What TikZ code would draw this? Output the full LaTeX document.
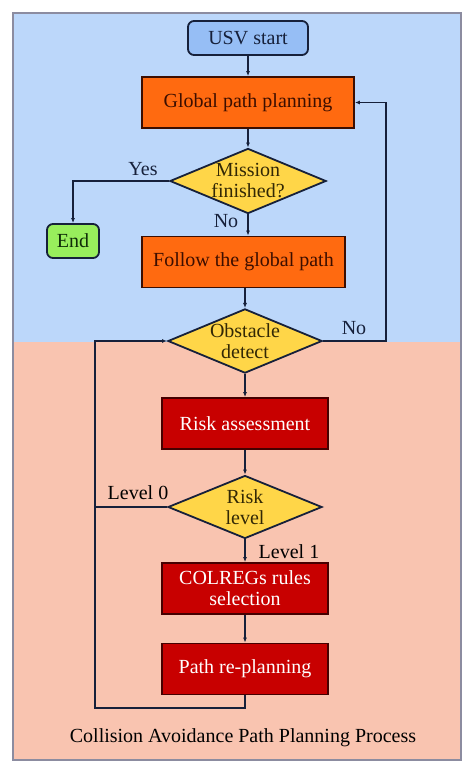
\documentclass[tikz,border=0pt]{standalone}
\usepackage{tikz}
\usepackage{fontspec}
\setmainfont{Liberation Serif}
\usetikzlibrary{shapes.geometric,arrows.meta}

\definecolor{skyback}{RGB}{188,215,250}
\definecolor{salmonback}{RGB}{249,196,176}
\definecolor{framegray}{RGB}{140,140,160}
\definecolor{navyline}{RGB}{22,32,58}
\definecolor{startblue}{RGB}{150,190,245}
\definecolor{planorange}{RGB}{255,106,16}
\definecolor{planink}{RGB}{60,14,0}
\definecolor{askyellow}{RGB}{255,214,72}
\definecolor{askink}{RGB}{50,40,5}
\definecolor{endgreen}{RGB}{152,238,92}
\definecolor{endink}{RGB}{15,45,8}
\definecolor{riskred}{RGB}{200,0,0}
\definecolor{riskedge}{RGB}{70,0,0}

\begin{document}
\begin{tikzpicture}[x=1pt,y=-1pt,line width=1.4pt,
  font=\fontsize{20}{21}\selectfont,
  flow/.style={draw=navyline,-{Latex[length=5pt,width=4pt]}},
  link/.style={draw=navyline},
  startbox/.style={draw=navyline,fill=startblue,text=navyline,rounded corners=6pt,
    minimum width=120pt,minimum height=34pt,line width=1.8pt},
  endbox/.style={draw=navyline,fill=endgreen,text=endink,rounded corners=6pt,
    minimum width=52pt,minimum height=34pt,line width=1.8pt},
  planbox/.style={draw=planink,fill=planorange,text=planink,minimum height=51pt,line width=1.8pt},
  riskbox/.style={draw=riskedge,fill=riskred,text=white,minimum width=166pt,
    minimum height=51pt,align=center,line width=1.8pt},
  decision/.style={diamond,draw=navyline,fill=askyellow,text=askink,aspect=2.4,
    inner sep=0pt,align=center,minimum width=154pt,minimum height=63pt,line width=1.8pt},
  lbl/.style={text=navyline}
]

\useasboundingbox (0,0) rectangle (474,771);
\fill[skyback] (13,13) rectangle (461,342);
\fill[salmonback] (13,342) rectangle (461,760);
\draw[framegray,line width=1.5pt] (13,13) rectangle (461,760);

\node[startbox] (start) at (248,38) {USV start};
\node[planbox,minimum width=212pt] (global) at (248,102.5) {Global path planning};
\node[decision] (mission) at (248,181) {Mission\\finished?};
\node[endbox] (end) at (73,241) {End};
\node[planbox,minimum width=203pt] (follow) at (243.5,262) {Follow the global path};
\node[decision] (obstacle) at (245,341) {Obstacle\\detect};
\node[riskbox] (risk) at (245,423.5) {Risk assessment};
\node[decision] (level) at (245,507) {Risk\\level};
\node[riskbox] (colregs) at (245,588.5) {COLREGs rules\\selection};
\node[riskbox] (replan) at (245,669) {Path re-planning};
\node (caption) at (243,738) {Collision Avoidance Path Planning Process};

\coordinate (loop) at (95,708);
\coordinate (back) at (386,341);

\draw[flow] (start) -- (global);
\draw[flow] (global) -- (mission);
\draw[flow] (mission.west) -| (end.north);
\draw[flow] (mission.south) -- (mission.south |- follow.north);
\draw[flow] (follow.south -| obstacle.north) -- (obstacle.north);
\draw[flow] (obstacle.east) -- (back) |- (global.east);
\draw[flow] (obstacle) -- (risk);
\draw[flow] (risk) -- (level);
\draw[flow] (level) -- (colregs);
\draw[flow] (colregs) -- (replan);
\draw[flow] (replan.south) |- (loop) |- (obstacle.west);
\draw[link] (level.west) -- (level.west -| loop);

\node[lbl] (yes) at (143,169) {Yes};
\node[lbl] (nomission) at (226,221) {No};
\node[lbl] (noobstacle) at (354,328) {No};
\node[text=black] (levelzero) at (138,493) {Level 0};
\node[text=black] (levelone) at (289,552) {Level 1};

\end{tikzpicture}
\end{document}
